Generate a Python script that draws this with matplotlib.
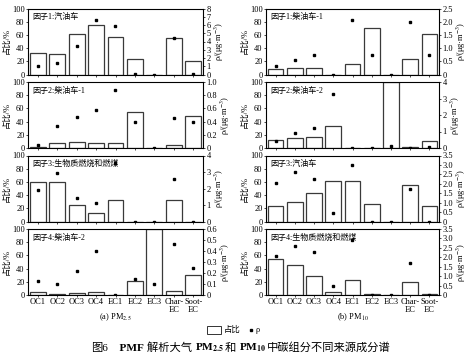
import matplotlib
matplotlib.use("Agg")
import matplotlib.pyplot as plt
from matplotlib.patches import Rectangle
from matplotlib.lines import Line2D

plt.rcParams['font.family'] = ['Liberation Serif', 'Noto Sans CJK SC']
plt.rcParams['mathtext.fontset'] = 'stix'

categories = ["OC1", "OC2", "OC3", "OC4", "EC1", "EC2", "EC3", "Char-\nEC", "Soot-\nEC"]

pm25_names = ["因子1:汽油车", "因子2:柴油车-1", "因子3:生物质燃烧和燃煤", "因子4:柴油车-2"]
pm25_share_f1 = [33, 31, 62, 75, 57, 24, 0, 55, 21]
pm25_share_f2 = [2, 7, 9, 7, 8, 55, 0, 5, 48]
pm25_share_f3 = [60, 60, 25, 13, 33, 0, 0, 33, 0]
pm25_share_f4 = [4, 2, 3, 4, 0, 21, 100, 6, 30]
pm25_rho_f1 = [1.0, 1.45, 3.4, 6.6, 5.9, 0.05, 0, 4.4, 0.05]
pm25_rho_f2 = [0.04, 0.34, 0.47, 0.58, 0.88, 0.39, 0, 0.46, 0.39]
pm25_rho_f3 = [1.9, 2.95, 1.4, 1.15, 3.55, 0, 0, 2.58, 0]
pm25_rho_f4 = [0.13, 0.10, 0.22, 0.40, 0, 0.15, 0.10, 0.46, 0.25]
pm25_rho_max = [8, 1.0, 4, 0.6]
pm25_rho_step = [1, 0.2, 1, 0.1]

pm10_names = ["因子1:柴油车-1", "因子2:柴油车-2", "因子3:汽油车", "因子4:生物质燃烧和燃煤"]
pm10_share_f1 = [8, 10, 10, 0, 16, 70, 0, 24, 61]
pm10_share_f2 = [12, 15, 16, 33, 0, 0, 100, 1, 11]
pm10_share_f3 = [24, 29, 43, 61, 61, 27, 0, 55, 24]
pm10_share_f4 = [54, 45, 29, 4.5, 22, 1, 0, 20, 1]
pm10_rho_f1 = [0.32, 0.56, 0.74, 0, 2.08, 0.72, 0, 2.0, 0.72]
pm10_rho_f2 = [0.41, 0.89, 1.2, 3.3, 0, 0, 0.1, 0.03, 0.08]
pm10_rho_f3 = [2.06, 2.6, 2.28, 0.47, 2.98, 0, 0, 1.74, 0]
pm10_rho_f4 = [2.06, 2.59, 2.27, 0.46, 2.94, 0, 0, 1.72, 0]
pm10_rho_max = [2.5, 4, 3.5, 3.5]
pm10_rho_step = [0.5, 1, 0.5, 0.5]

W, H = 474, 356
fig = plt.figure(figsize=(W / 100, H / 100), dpi=100)

cols = [
    dict(left=28, right=203, names=pm25_names,
         shares=[pm25_share_f1, pm25_share_f2, pm25_share_f3, pm25_share_f4],
         rhos=[pm25_rho_f1, pm25_rho_f2, pm25_rho_f3, pm25_rho_f4],
         rmax=pm25_rho_max, rstep=pm25_rho_step, title="(a) PM$_{2.5}$"),
    dict(left=266, right=439, names=pm10_names,
         shares=[pm10_share_f1, pm10_share_f2, pm10_share_f3, pm10_share_f4],
         rhos=[pm10_rho_f1, pm10_rho_f2, pm10_rho_f3, pm10_rho_f4],
         rmax=pm10_rho_max, rstep=pm10_rho_step, title="(b) PM$_{10}$"),
]
tops = [8.5, 82, 155.5, 229]
ph = 66
fs = 6
x = list(range(len(categories)))


def fmt(v, step):
    if abs(v) < 1e-9:
        return "0"
    if step < 1:
        return f"{v:.1f}"
    return f"{v:.0f}"


for col in cols:
    for i in range(4):
        top = tops[i]
        ax = fig.add_axes([col['left'] / W, 1 - (top + ph) / H,
                           (col['right'] - col['left']) / W, ph / H])
        ax.bar(x, col['shares'][i], width=0.82, facecolor='white',
               edgecolor='#3a3a3a', linewidth=0.9, zorder=2)
        ax.set_xlim(-0.5, len(categories) - 0.5)
        ax.set_ylim(0, 100)
        ax.set_yticks([0, 20, 40, 60, 80, 100])
        ax.tick_params(axis='both', direction='out', length=1.5, width=0.5,
                       labelsize=fs, pad=1)
        ax.set_xticks(x)
        if i == 3:
            ax.set_xticklabels(categories, fontsize=fs, linespacing=0.9)
        else:
            ax.set_xticklabels([])
        for s in ax.spines.values():
            s.set_linewidth(0.6)
        ax.set_ylabel("占比/%", fontsize=fs, labelpad=1)
        ax.text(0.025, 0.93, col['names'][i], transform=ax.transAxes,
                fontsize=5.8, va='top', ha='left')
        ax2 = ax.twinx()
        ax2.plot(x, col['rhos'][i], linestyle='none', marker='s',
                 markersize=1.8, color='black', zorder=3)
        rmax = col['rmax'][i]
        st = col['rstep'][i]
        n = int(round(rmax / st))
        tv = [k * st for k in range(n + 1)]
        ax2.set_ylim(0, rmax)
        ax2.set_yticks(tv)
        ax2.set_yticklabels([fmt(v, st) for v in tv])
        ax2.tick_params(axis='y', direction='out', length=1.5, width=0.5,
                        labelsize=fs, pad=1)
        ax2.set_ylabel("ρ/(μg·m$^{-3}$)", fontsize=fs, labelpad=1, rotation=90)
        if i == 3:
            ax.text(0.5, -0.34, col['title'], transform=ax.transAxes,
                    fontsize=fs, ha='center', va='center')

# legend
fig.patches.append(Rectangle((207 / W, 1 - 334 / H), 14 / W, 8 / H,
                             transform=fig.transFigure, facecolor='white',
                             edgecolor='#333333', linewidth=0.7))
fig.text(224 / W, 1 - 330 / H, "占比", fontsize=fs, va='center', ha='left')
fig.lines.append(Line2D([251 / W], [1 - 330 / H], marker='s', markersize=1.8,
                        color='black', linestyle='none', transform=fig.transFigure))
fig.text(255 / W, 1 - 330 / H, "ρ", fontsize=fs, va='center', ha='left')

# caption, drawn piece by piece so bold Latin and CJK text mix
caption_parts = [
    ("图6", "normal"),
    ("    PMF ", "bold"),
    ("解析大气 ", "normal"),
    ("PM$_{\\mathbf{2.5}}$ ", "bold"),
    ("和 ", "normal"),
    ("PM$_{\\mathbf{10}}$ ", "bold"),
    ("中碳组分不同来源成分谱", "normal"),
]
renderer = fig.canvas.get_renderer()
cap_fs = 8.1
texts = []
for s, wgt in caption_parts:
    t = fig.text(0, 1 - 351 / H, s, fontsize=cap_fs, fontweight=wgt,
                 ha='left', va='baseline')
    texts.append(t)
widths = [t.get_window_extent(renderer).width for t in texts]
total = sum(widths)
xpos = (W - total) / 2 + 4
for t, w in zip(texts, widths):
    t.set_x(xpos / W)
    xpos += w

fig.savefig("out.png", dpi=100)
